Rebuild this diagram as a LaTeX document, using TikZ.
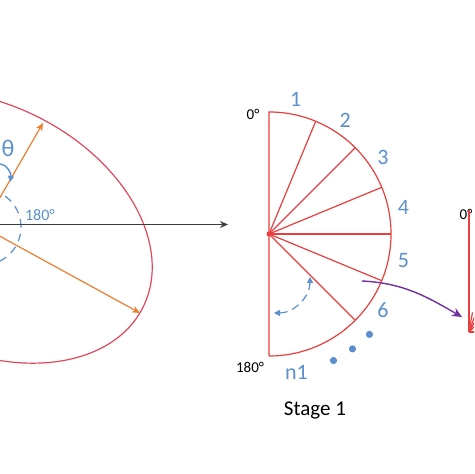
\documentclass[tikz,border=0pt]{standalone}
\usepackage{fontspec}
\setmainfont{Carlito}
\usetikzlibrary{arrows.meta}
\definecolor{cblue}{RGB}{91,143,205}
\definecolor{cred}{RGB}{232,62,62}
\definecolor{cpink}{RGB}{226,72,92}
\definecolor{corange}{RGB}{237,125,49}
\definecolor{cpurple}{RGB}{112,48,160}
\definecolor{cgray}{RGB}{60,60,60}

\begin{document}
\begin{tikzpicture}[x=0.5pt, y=0.5pt, r/.style={draw=cred, line width=0.6pt}, num/.style={text=cblue, font=\fontsize{11}{13}\selectfont, inner sep=0pt}, deg/.style={font=\fontsize{7.5}{9}\selectfont, inner sep=0pt}, dot/.style={circle, fill=cblue, inner sep=0pt, minimum size=3.6pt}, tip/.style={-{Stealth[length=4pt,width=3.5pt]}}]
		\useasboundingbox (0,0) rectangle (474,474);
		\clip (0,0) rectangle (474,474);

		% polar view
		\coordinate (E) at (-17,247);
		\draw[cpink, line width=0.6pt, rotate around={-26.7:(E)}] (E) ellipse[x radius=179, y radius=123];
		\draw[cblue, line width=0.6pt, dash pattern=on 4pt off 3pt] (E) circle[radius=38];
		\coordinate (A1) at (43,351);
		\coordinate (A2) at (140,161);
		\draw[corange, line width=0.6pt, tip] (E) -- (A1);
		\draw[corange, line width=0.6pt, tip] (E) -- (A2);
		\coordinate (L) at (-5,249.5);
		\coordinate (R) at (228,249.5);
		\draw[cgray, line width=0.8pt, tip] (L) -- (R);
		\node[text=cblue, font=\fontsize{12}{14}\selectfont] (theta) at (8,326) {θ};
		\coordinate (T1) at (-1,310);
		\coordinate (T2) at (10,292);
		\draw[cblue, line width=0.7pt, -{Triangle[length=3pt,width=3pt]}] (T1) to[out=0, in=80] (T2);
		\node[text=cblue, font=\fontsize{8}{10}\selectfont] (ang) at (40,259) {180°};

		% stage 1
		\coordinate (O) at (269,240);
		\draw[r] (269,118) -- (269,362) arc[start angle=90, end angle=-90, radius=122];
		\foreach \a in {67.5,45,22.5,0,-22.5,-45}
			\draw[r] (O) -- ++(\a:122);
		\fill[cred] (O) circle[radius=2.5];
		\foreach \i in {1,...,6}
			\path (O) ++({90-22.5*\i+11.25}:137) node[num] (n\i) {\i};
		\path (O) ++(-78.75:141) node[num] (nn) {n1};
		\foreach \a [count=\k] in {-45,-54,-63}
			\path (O) ++(\a:142) node[dot] (d\k) {};
		\node[deg] (zero) at (253,360) {0°};
		\node[deg] (half) at (250,107) {180°};
		\node[font=\fontsize{10.5}{12}\selectfont] (stage) at (315,64) {Stage 1};
		\coordinate (C1) at (274,161);
		\coordinate (C2) at (310,197);
		\draw[cblue, line width=0.6pt, dash pattern=on 4pt off 2.5pt, {Triangle[length=3pt,width=3pt]}-{Triangle[length=3pt,width=3pt]}] (C1) to[out=0, in=-90] (C2);

		% next stage
		\coordinate (P1) at (362,193);
		\coordinate (P2) at (462,157);
		\draw[cpurple, line width=0.7pt, -{Stealth[length=5pt,width=4.5pt]}] (P1) to[out=-3, in=150] (P2);
		\node[deg] (zero2) at (466,260) {0°};
		\coordinate (Q) at (469,142);
		\draw[r] (Q) -- (469,264);
		\foreach \a in {80,70,60,45,0}
			\draw[r] (Q) -- ++(\a:20);
	\end{tikzpicture}
\end{document}
